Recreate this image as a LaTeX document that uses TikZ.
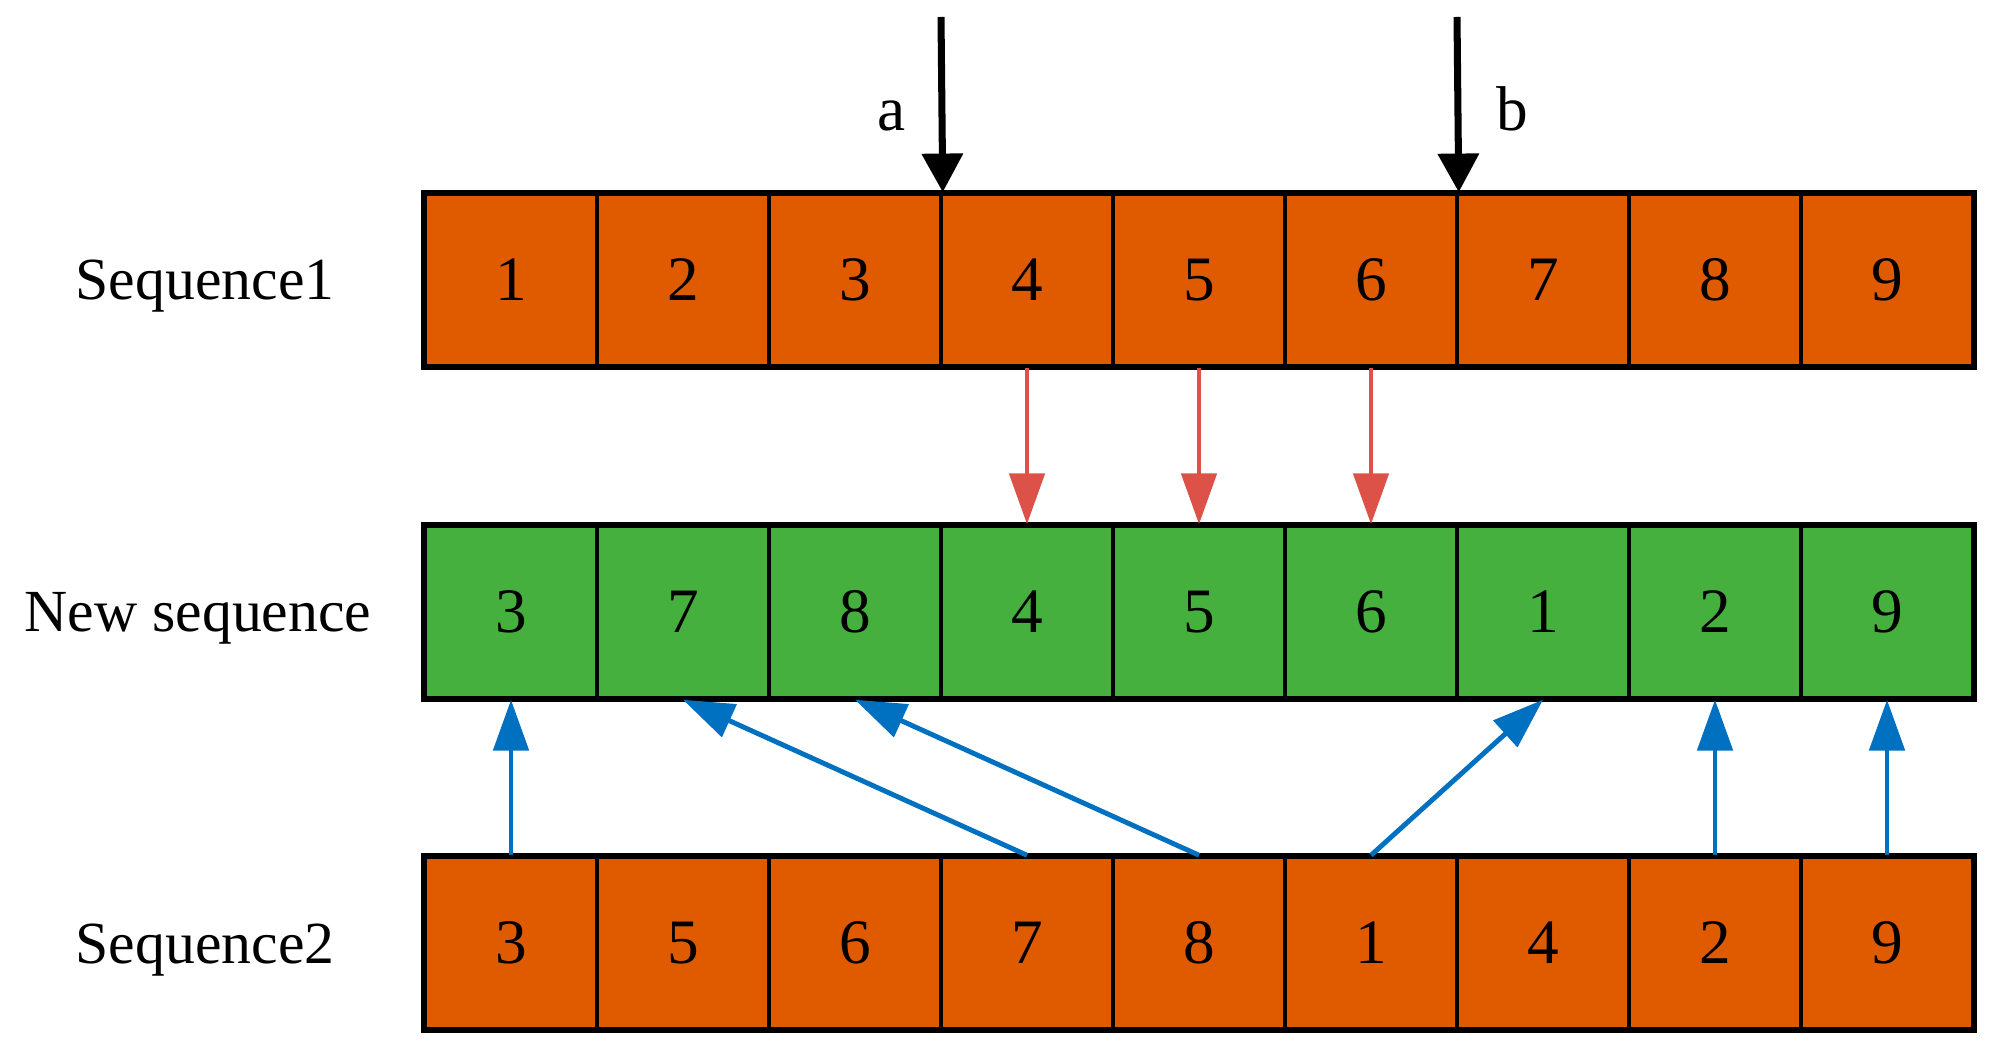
\documentclass[tikz,border=0pt]{standalone}
\usepackage{fontspec}
\setmainfont{Liberation Serif}
\usetikzlibrary{arrows.meta}
\definecolor{seqorange}{RGB}{224,90,0}
\definecolor{newgreen}{RGB}{70,176,62}
\definecolor{linkred}{RGB}{221,82,72}
\definecolor{linkblue}{RGB}{0,112,192}
\tikzset{
  cell/.style={draw, line width=1pt, minimum width=17.2mm, minimum height=17.2mm,
    inner sep=0pt, font=\fontsize{18pt}{20pt}\selectfont},
  rowlabel/.style={anchor=base, font=\fontsize{17pt}{20pt}\selectfont},
  cutlabel/.style={anchor=base, font=\fontsize{18pt}{20pt}\selectfont},
  cut/.style={line width=2pt, -{Triangle[width=11.4pt, length=11pt]}},
  keep/.style={linkred, line width=1.3pt, -{Triangle[width=10pt, length=14.5pt]}},
  fill in/.style={linkblue, line width=1.4pt, -{Triangle[width=10pt, length=14.5pt]}},
}

\begin{document}
\begin{tikzpicture}[x=0.1mm, y=-0.1mm]
    \useasboundingbox (0,0) rectangle (1996,1051);

    % draw the three rows
    \foreach \v [count=\k, evaluate=\k as \cx using 339+172*\k] in {1,2,3,4,5,6,7,8,9}
      \node [cell, fill=seqorange] (s1-\k) at (\cx, 280) {\v};
    \foreach \v [count=\k, evaluate=\k as \cx using 339+172*\k] in {3,7,8,4,5,6,1,2,9}
      \node [cell, fill=newgreen] (n-\k) at (\cx, 612) {\v};
    \foreach \v [count=\k, evaluate=\k as \cx using 339+172*\k] in {3,5,6,7,8,1,4,2,9}
      \node [cell, fill=seqorange] (s2-\k) at (\cx, 943) {\v};
    \draw [line width=1.2pt] (s1-1.north west) rectangle (s1-9.south east);
    \draw [line width=1.2pt] (n-1.north west) rectangle (n-9.south east);
    \draw [line width=1.2pt] (s2-1.north west) rectangle (s2-9.south east);

    % add labels
    \node [rowlabel] (lab1) at (205, 300) {Sequence1};
    \node [rowlabel] (labn) at (198, 632) {New sequence};
    \node [rowlabel] (lab2) at (205, 963) {Sequence2};

    % cut points
    \coordinate (a top) at (941, 17);
    \coordinate (b top) at (1457, 17);
    \draw [cut] (a top) -- (s1-3.north east);
    \draw [cut] (b top) -- (s1-6.north east);
    \node [cutlabel] (a) at (892, 131) {a};
    \node [cutlabel] (b) at (1512, 131) {b};

    % copied middle part
    \foreach \k in {4,5,6}
      \draw [keep] (s1-\k.south) -- (n-\k.north);

    % filled from Sequence2
    \draw [fill in] (s2-1.north) -- (n-1.south);
    \draw [fill in] (s2-4.north) -- (n-2.south);
    \draw [fill in] (s2-5.north) -- (n-3.south);
    \draw [fill in] (s2-6.north) -- (n-7.south);
    \draw [fill in] (s2-8.north) -- (n-8.south);
    \draw [fill in] (s2-9.north) -- (n-9.south);
\end{tikzpicture}
\end{document}
